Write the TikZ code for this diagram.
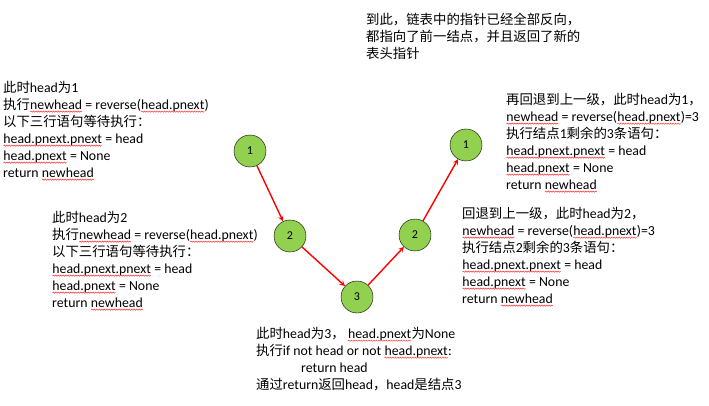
\documentclass[tikz,border=0pt]{standalone}
\usepackage{fontspec}
\usetikzlibrary{decorations.pathmorphing}
\setmainfont{Carlito}
\newfontfamily\cjk[Scale=0.97]{Noto Sans CJK SC}
\definecolor{nodegreen}{HTML}{92D050}
\newcommand{\zh}[1]{{\cjk #1}}
\newcommand{\rw}[1]{\tikz[baseline=(w.base)]{\node[inner sep=0pt, outer sep=0pt] (w) {#1};
    \draw[red!80, line width=0.5pt, decorate, decoration={snake, amplitude=0.6pt, segment length=2.5pt}] ([yshift=-2.2pt]w.base west) -- ([yshift=-2.2pt]w.base east);}}
\tikzset{
    pnt/.style={circle, draw, fill=nodegreen, minimum size=32pt, inner sep=0pt, font=\fontsize{12}{12}\selectfont},
    blk/.style={anchor=north west, align=left, inner sep=0pt, font=\fontsize{13.8}{17}\selectfont},
    lnk/.style={draw=red, line width=1.4pt, -stealth},
}
\begin{document}
\begin{tikzpicture}[x=1pt, y=-1pt]
    \useasboundingbox (0,0) rectangle (709,406);
    % nodes of the list
    \node[pnt] (n1) at (250,151) {1};
    \node[pnt] (n2) at (290,236) {2};
    \node[pnt] (n3) at (357,297) {3};
    \node[pnt] (m2) at (415,235) {2};
    \node[pnt] (m1) at (466,145) {1};
    \draw[lnk] (n1) -- (n2);
    \draw[lnk] (n2) -- (n3);
    \draw[lnk] (n3) -- (m2);
    \draw[lnk] (m2) -- (m1);
    % texts
    \node[blk] (top) at (366,13) {\zh{到此，链表中的指针已经全部反向，}\\ \zh{都指向了前一结点，并且返回了新的}\\ \zh{表头指针}};
    \node[blk] (ta) at (3,81) {\zh{此时}head\zh{为}1\\ \zh{执行}\rw{newhead} = reverse(\rw{head.pnext})\\ \zh{以下三行语句等待执行：}\\ \rw{head.pnext.pnext} = head\\ \rw{head.pnext} = None\\ return \rw{newhead}};
    \node[blk] (tb) at (52,211) {\zh{此时}head\zh{为}2\\ \zh{执行}\rw{newhead} = reverse(\rw{head.pnext})\\ \zh{以下三行语句等待执行：}\\ \rw{head.pnext.pnext} = head\\ \rw{head.pnext} = None\\ return \rw{newhead}};
    \node[blk] (tc) at (506,93) {\zh{再回退到上一级，此时}head\zh{为}1\zh{，}\\ \rw{newhead} = reverse(\rw{head.pnext})=3\\ \zh{执行结点}1\zh{剩余的}3\zh{条语句：}\\ \rw{head.pnext.pnext} = head\\ \rw{head.pnext} = None\\ return \rw{newhead}};
    \node[blk] (td) at (462,207) {\zh{回退到上一级，此时}head\zh{为}2\zh{，}\\ \rw{newhead} = reverse(\rw{head.pnext})=3\\ \zh{执行结点}2\zh{剩余的}3\zh{条语句：}\\ \rw{head.pnext.pnext} = head\\ \rw{head.pnext} = None\\ return \rw{newhead}};
    \node[blk] (te) at (256,327) {\zh{此时}head\zh{为}3\zh{，}\ \rw{head.pnext}\zh{为}None\\ \zh{执行}if not head or not \rw{head.pnext}:\\ \hspace{45pt}return head\\ \zh{通过}return\zh{返回}head\zh{，}head\zh{是结点}3};
\end{tikzpicture}
\end{document}
